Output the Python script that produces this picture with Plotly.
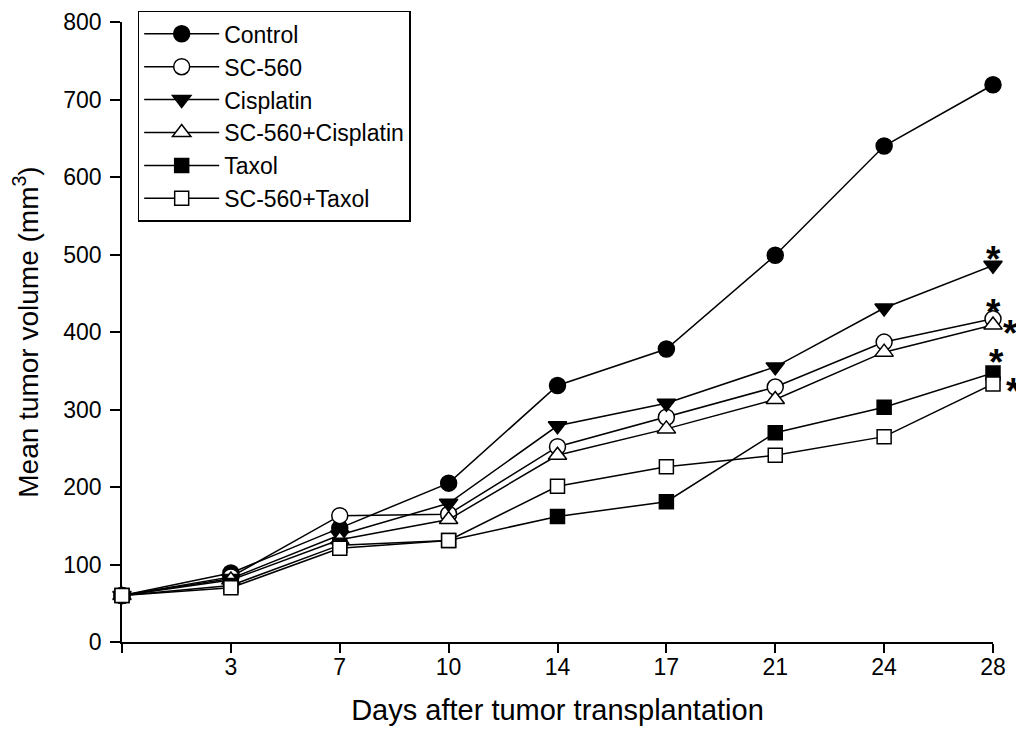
import plotly.graph_objects as go

days = ["0", "3", "7", "10", "14", "17", "21", "24", "28"]
day_labels = ["", "3", "7", "10", "14", "17", "21", "24", "28"]

control = [60, 89, 147, 205, 331, 378, 499, 640, 719]
sc560 = [60, 84, 163, 165, 252, 290, 329, 387, 417]
cisplatin = [60, 82, 138, 179, 279, 308, 355, 431, 486]
sc560_cisplatin = [60, 80, 132, 158, 241, 275, 313, 374, 409]
taxol = [60, 73, 125, 131, 162, 181, 270, 303, 347]
sc560_taxol = [60, 70, 121, 131, 201, 226, 241, 265, 333]

# groups marked significant at day 28
stars = ["Cisplatin", "SC-560", "SC-560+Cisplatin", "Taxol", "SC-560+Taxol"]

series = [
    ("Control", control, "circle", "black", 16),
    ("SC-560", sc560, "circle", "white", 16),
    ("Cisplatin", cisplatin, "triangle-down", "black", 16),
    ("SC-560+Cisplatin", sc560_cisplatin, "triangle-up", "white", 16),
    ("Taxol", taxol, "square", "black", 14),
    ("SC-560+Taxol", sc560_taxol, "square", "white", 14),
]

FONT = "Liberation Sans, Arial, sans-serif"

fig = go.Figure()
for name, vals, sym, fill, size in series:
    fig.add_trace(go.Scatter(
        x=days, y=vals, name=name, mode="lines+markers",
        line=dict(color="black", width=1.5),
        marker=dict(symbol=sym, size=size, color=fill, line=dict(color="black", width=1.5)),
        cliponaxis=False,
    ))

# star offsets in pixels from the last point (dx, dy)
star_shift = {
    "Cisplatin": (0, 6),
    "SC-560": (0, 6),
    "SC-560+Cisplatin": (17, -8),
    "Taxol": (3, 11),
    "SC-560+Taxol": (20, -8),
}
last = {name: vals[-1] for name, vals, _, _, _ in series}
last_idx = len(days) - 1  # category axis: annotations need the index
for name in stars:
    dx, dy = star_shift[name]
    fig.add_annotation(
        x=last_idx, y=last[name], text="<b>*</b>", showarrow=False,
        xshift=dx, yshift=dy, font=dict(size=37, color="black", family=FONT),
    )

# page body adds an 8px margin, so the figure is a bit smaller than the window
fig.update_layout(
    width=1016, height=721,
    margin=dict(l=114, r=31, t=14, b=87, autoexpand=False),
    plot_bgcolor="white", paper_bgcolor="white",
    font=dict(family=FONT, color="black"),
    legend=dict(
        x=0.018, y=1.018, xanchor="left", yanchor="top",
        font=dict(size=23), bordercolor="black", borderwidth=1.5,
        bgcolor="white", tracegroupgap=0, itemwidth=75,
    ),
)
fig.update_xaxes(
    type="category", categoryorder="array", categoryarray=days,
    range=[0, 8], tickvals=days, ticktext=day_labels,
    showline=True, linecolor="black", linewidth=1.5,
    ticks="outside", ticklen=9, tickwidth=1.5, tickcolor="black",
    tickfont=dict(size=23), showgrid=False, zeroline=False, ticklabelstandoff=-5,
    title=dict(text="Days after tumor transplantation", font=dict(size=29), standoff=20),
    layer="below traces",
)
fig.update_yaxes(
    range=[0, 800], dtick=100,
    showline=True, linecolor="black", linewidth=1.5,
    ticks="outside", ticklen=10, tickwidth=1.5, tickcolor="black",
    tickfont=dict(size=23), showgrid=False, zeroline=False, ticklabelstandoff=4,
    title=dict(text="Mean tumor volume (mm<sup>3</sup>)", font=dict(size=28), standoff=22),
    layer="below traces",
)

fig.write_html("out.html")
